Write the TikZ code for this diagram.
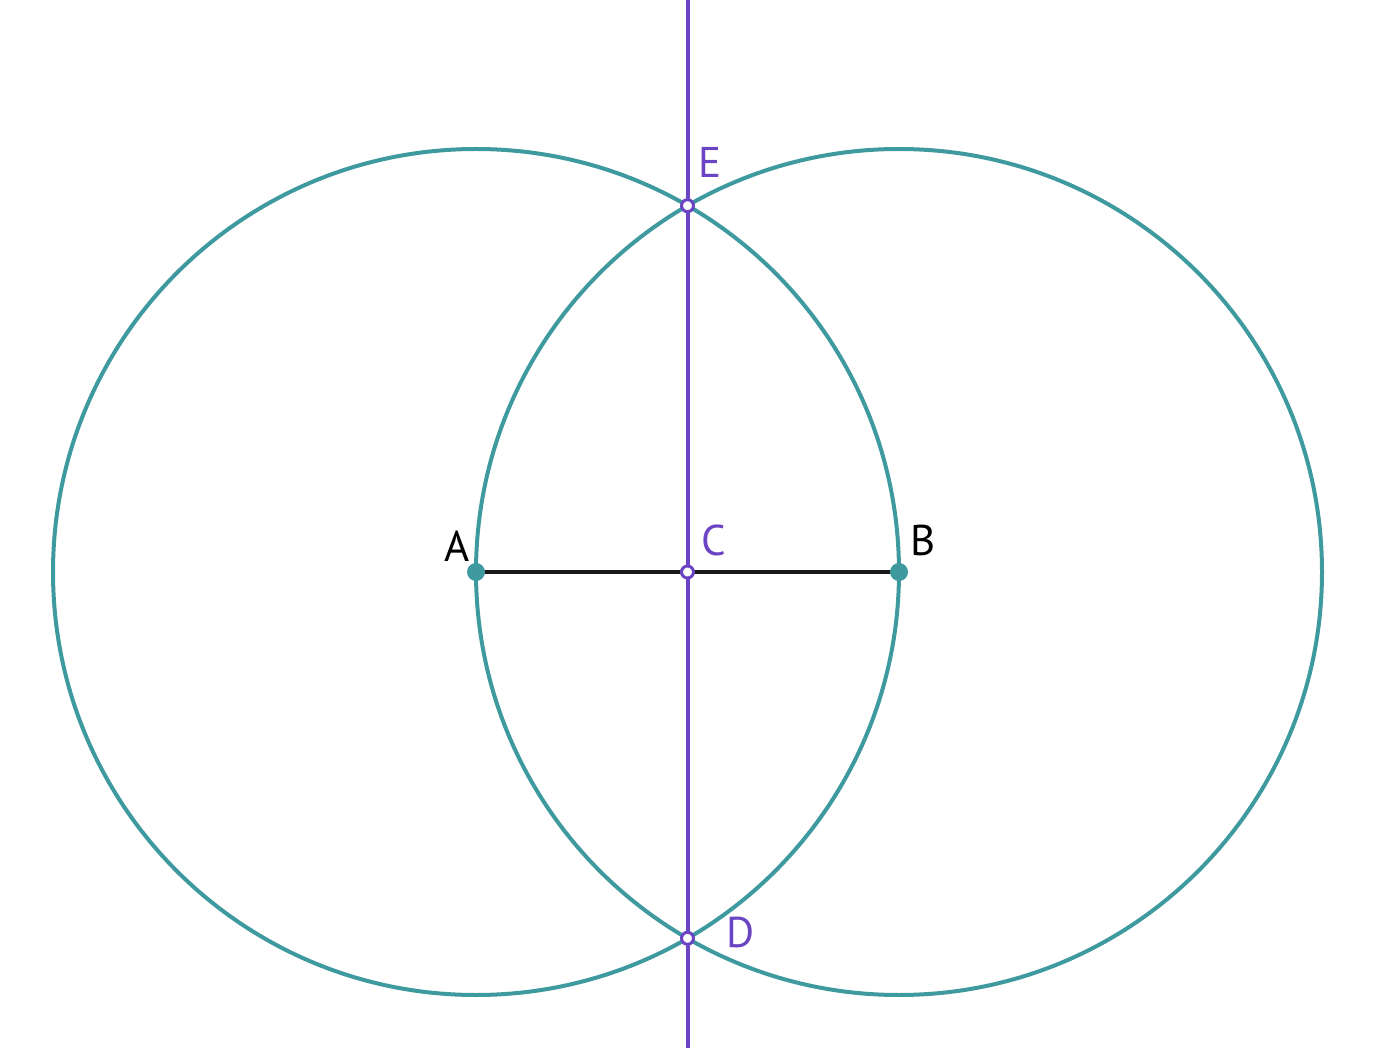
\documentclass[tikz,border=0pt]{standalone}
\usepackage{fontspec}
\setmainfont{PT Sans}
\definecolor{teal1}{HTML}{3F9A9F}
\definecolor{purp}{HTML}{6A44C2}
\begin{document}
\begin{tikzpicture}[x=1pt,y=-1pt,
  circ/.style={draw=teal1,line width=4pt},
  seg/.style={draw=black!90,line width=4pt},
  perp/.style={draw=purp,line width=4pt},
  fulldot/.style={circle,fill=teal1,inner sep=0pt,minimum size=18pt},
  opendot/.style={circle,draw=purp,fill=white,line width=3pt,inner sep=0pt,minimum size=12pt},
  lbl/.style={inner sep=0pt,font=\fontsize{43}{43}\selectfont},
  lblp/.style={lbl,text=purp}]
\useasboundingbox (0,0) rectangle (1390,1048);
\coordinate (A) at (476,572);
\coordinate (B) at (899,572);
\coordinate (C) at (687.5,572);
\coordinate (E) at (687.5,205.7);
\coordinate (D) at (687.5,938.3);
\coordinate (top) at (687.5,0);
\coordinate (bot) at (687.5,1048);
\draw[circ] (A) circle[radius=423];
\draw[circ] (B) circle[radius=423];
\draw[seg] (A) -- (B);
\draw[perp] (top) -- (bot);
\node[fulldot] (nA) at (A) {};
\node[fulldot] (nB) at (B) {};
\node[opendot] (nC) at (C) {};
\node[opendot] (nD) at (D) {};
\node[opendot] (nE) at (E) {};
\node[lbl] (lA) at (457,546) {A};
\node[lbl] (lB) at (923,540) {B};
\node[lblp] (lC) at (714,540) {C};
\node[lblp] (lD) at (741,932) {D};
\node[lblp] (lE) at (710,162) {E};
\end{tikzpicture}
\end{document}
